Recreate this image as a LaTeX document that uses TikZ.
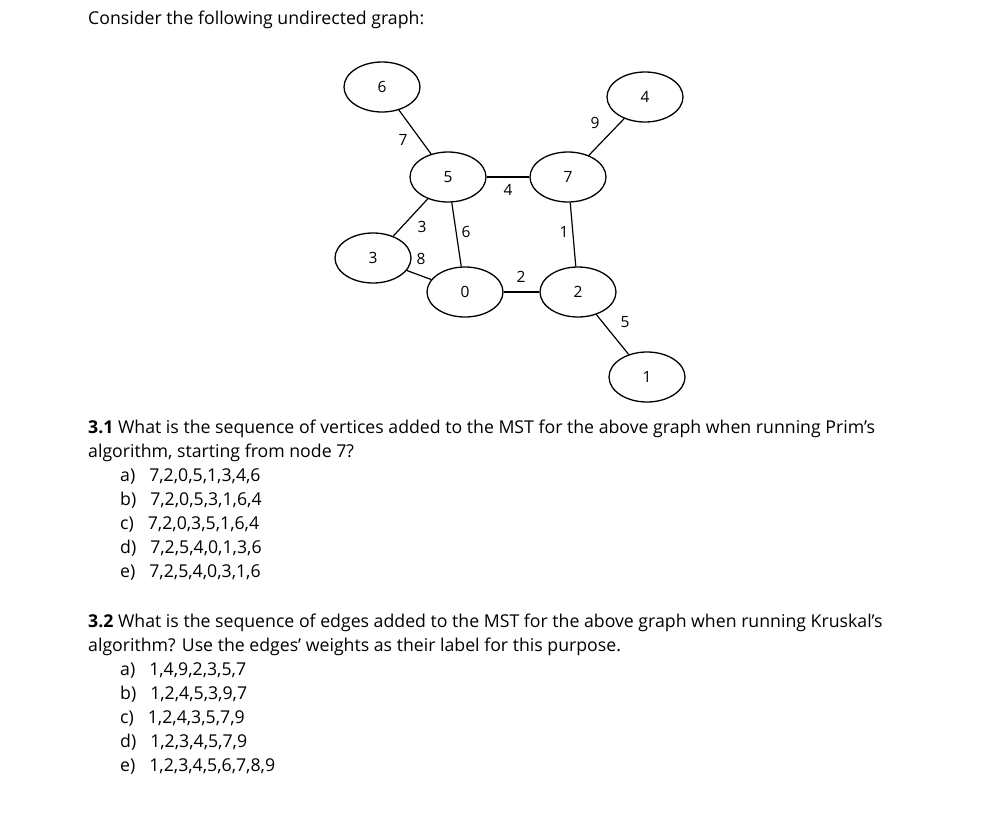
\documentclass[tikz,border=0pt]{standalone}
\usepackage{fontspec}
\usetikzlibrary{shapes.geometric}
\setmainfont{Open Sans}
\begin{document}
\begin{tikzpicture}[x=1pt,y=-1pt,
  vtx/.style={draw,line width=1.3pt,ellipse,minimum width=76pt,minimum height=50pt,inner sep=0pt,font=\fontsize{15.5}{18}\selectfont},
  edge/.style={line width=1.2pt},
  wt/.style={font=\fontsize{15.5}{18}\selectfont,inner sep=0pt},
  txt/.style={anchor=base west,inner sep=0pt,font=\fontsize{17.7}{21}\selectfont}]
\useasboundingbox (0,0) rectangle (998,822);
\node[vtx] (n6) at (382,87) {6};
\node[vtx] (n4) at (645,97) {4};
\node[vtx] (n5) at (448,177) {5};
\node[vtx] (n7) at (568,177) {7};
\node[vtx] (n3) at (373,258) {3};
\node[vtx] (n0) at (465,292) {0};
\node[vtx] (n2) at (578,292) {2};
\node[vtx] (n1) at (647,377) {1};
\draw[edge] (n6) -- (n5);
\draw[edge] (n4) -- (n7);
\draw[edge] (n5) -- (n7);
\draw[edge] (n5) -- (n3);
\draw[edge] (n5) -- (n0);
\draw[edge] (n3) -- (n0);
\draw[edge] (n7) -- (n2);
\draw[edge] (n0) -- (n2);
\draw[edge] (n2) -- (n1);
\node[wt] (w7) at (403,140) {7};
\node[wt] (w9) at (595,123) {9};
\node[wt] (w4) at (508,190) {4};
\node[wt] (w3) at (422,227) {3};
\node[wt] (w6) at (466,232) {6};
\node[wt] (w8) at (421,259) {8};
\node[wt] (w1) at (564,232) {1};
\node[wt] (w2) at (521,277) {2};
\node[wt] (w5) at (625,322) {5};
\node[txt] (t0) at (88,24) {Consider the following undirected graph:};
\node[txt] (q1) at (88,433) {\textbf{3.1} What is the sequence of vertices added to the MST for the above graph when running Prim’s};
\node[txt] (q1b) at (88,457) {algorithm, starting from node 7?};
\node[txt] (a1) at (120,481) {a)\hspace{14pt}7,2,0,5,1,3,4,6};
\node[txt] (b1) at (120,505) {b)\hspace{14pt}7,2,0,5,3,1,6,4};
\node[txt] (c1) at (120,529) {c)\hspace{14pt}7,2,0,3,5,1,6,4};
\node[txt] (d1) at (120,553) {d)\hspace{14pt}7,2,5,4,0,1,3,6};
\node[txt] (e1) at (120,577) {e)\hspace{14pt}7,2,5,4,0,3,1,6};
\node[txt] (q2) at (88,627) {\textbf{3.2} What is the sequence of edges added to the MST for the above graph when running Kruskal’s};
\node[txt] (q2b) at (88,651) {algorithm? Use the edges\symbol{39} weights as their label for this purpose.};
\node[txt] (a2) at (120,675) {a)\hspace{14pt}1,4,9,2,3,5,7};
\node[txt] (b2) at (120,699) {b)\hspace{14pt}1,2,4,5,3,9,7};
\node[txt] (c2) at (120,723) {c)\hspace{14pt}1,2,4,3,5,7,9};
\node[txt] (d2) at (120,747) {d)\hspace{14pt}1,2,3,4,5,7,9};
\node[txt] (e2) at (120,771) {e)\hspace{14pt}1,2,3,4,5,6,7,8,9};
\end{tikzpicture}
\end{document}
